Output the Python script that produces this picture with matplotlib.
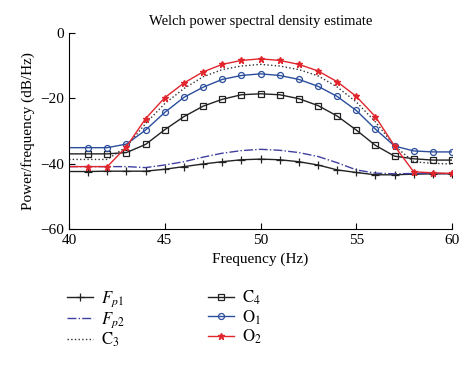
import numpy as np
import matplotlib.pyplot as plt

freq = np.arange(40, 61)

fp1 = [-42.4, -42.4, -42.3, -42.3, -42.3, -41.7, -40.9, -40.1, -39.4, -38.8, -38.6,
       -38.8, -39.4, -40.4, -41.9, -42.7, -43.4, -43.4, -43.2, -43.1, -43.1]
fp2 = [-40.9, -40.9, -40.9, -40.9, -41.2, -40.4, -39.4, -38.0, -36.8, -36.0, -35.6,
       -35.9, -36.6, -37.8, -39.7, -41.9, -42.9, -43.1, -43.0, -43.0, -43.0]
c3 = [-38.7, -38.7, -38.7, -34.8, -27.7, -21.6, -17.0, -13.4, -11.2, -10.1, -9.6,
      -10.1, -11.2, -13.1, -16.5, -21.1, -27.2, -34.6, -39.4, -39.9, -40.1]
c4 = [-37.0, -37.0, -37.0, -36.6, -34.1, -29.6, -25.6, -22.4, -20.3, -18.9, -18.6,
      -18.9, -20.1, -22.2, -25.4, -29.7, -34.4, -37.7, -38.5, -38.9, -38.9]
o1 = [-35.1, -35.1, -35.1, -34.0, -29.7, -24.3, -19.7, -16.6, -14.2, -13.0, -12.5,
      -13.0, -14.2, -16.3, -19.4, -23.7, -29.4, -34.6, -36.1, -36.4, -36.4]
o2 = [-40.9, -40.9, -40.9, -34.8, -26.2, -19.8, -15.3, -11.9, -9.6, -8.4, -7.9,
      -8.4, -9.6, -11.6, -14.9, -19.4, -25.6, -34.6, -42.5, -42.8, -43.0]

plt.rcParams['font.family'] = 'Liberation Serif'
plt.rcParams['mathtext.fontset'] = 'stix'

fig = plt.figure(figsize=(4.74, 3.66), dpi=100)
ax = fig.add_axes([0.1456, 0.3743, 0.808, 0.5355])

mk = slice(1, None)
ax.plot(freq, fp1, color='#222222', lw=1.0, marker='+', ms=5.5, mew=0.9, markevery=mk,
        label=r'$F_{p1}$')
ax.plot(freq, fp2, color='#4040a0', lw=1.0, ls='-.', label=r'$F_{p2}$')
ax.plot(freq, c3, color='#333333', lw=1.0, ls=':', label=r'$\mathrm{C}_3$')
ax.plot(freq, c4, color='#222222', lw=1.0, marker='s', ms=4.3, mfc='none', mew=0.9,
        markevery=mk, label=r'$\mathrm{C}_4$')
ax.plot(freq, o1, color='#2b4e9c', lw=1.0, marker='o', ms=4.3, mfc='none', mew=0.9,
        markevery=mk, label=r'$\mathrm{O}_1$')
ax.plot(freq, o2, color='#e0262c', lw=1.0, marker='*', ms=5, markevery=mk,
        label=r'$\mathrm{O}_2$')

ax.set_xlim(40, 60)
ax.set_ylim(-60, 0)
ax.set_xticks([40, 45, 50, 55, 60])
ax.set_yticks([-60, -40, -20, 0])
ax.tick_params(direction='in', labelsize=11, length=4)
ax.spines['top'].set_visible(False)
ax.spines['right'].set_visible(False)

ax.set_title('Welch power spectral density estimate', fontsize=10.5, pad=6)
ax.set_xlabel('Frequency (Hz)', fontsize=11)
ax.set_ylabel('Power/frequency (dB/Hz)', fontsize=11)

fig.legend(loc='upper left', bbox_to_anchor=(0.11, 0.253), ncol=2, frameon=False,
           fontsize=12, handlelength=1.55, columnspacing=5.0, labelspacing=0.08,
           handletextpad=0.5)

fig.savefig('out.png', dpi=100)
